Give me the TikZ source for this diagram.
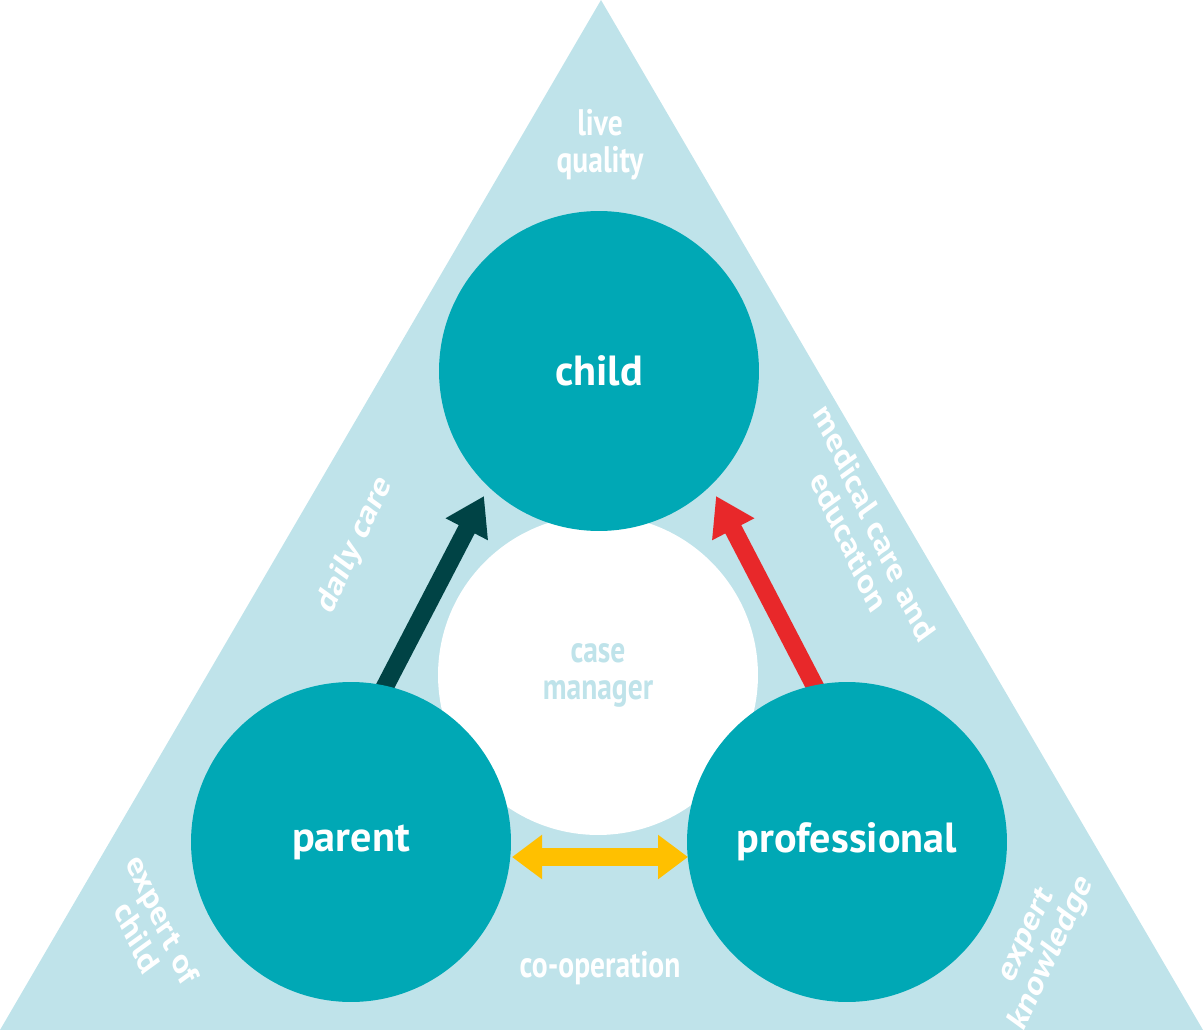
\documentclass[tikz,border=0pt]{standalone}
\usepackage{fontspec}
\setmainfont{PT Sans}
\usetikzlibrary{arrows.meta}
\definecolor{tribg}{HTML}{BFE3EA}
\definecolor{teal}{HTML}{00A8B5}
\definecolor{darkarr}{HTML}{004345}
\definecolor{redarr}{HTML}{E8282A}
\definecolor{yelarr}{HTML}{FFC000}
\begin{document}
\begin{tikzpicture}[x=0.02cm, y=-0.02cm,
        role/.style={circle, fill=teal, minimum size=6.4cm, text=white, font=\fontsize{24}{26}\selectfont\bfseries, inner sep=0pt},
        lbl/.style={text=white, align=center, font=\fontsize{21}{21}\selectfont\bfseries, xscale=0.8},
        fat/.style={line width=0.36cm, -{Triangle[width=0.9cm,length=0.75cm]}},
      ]
      \useasboundingbox (0,0) rectangle (1203,1030);
      % background triangle and case manager
      \fill[tribg] (601,0) -- (1203,1030) -- (0,1030) -- cycle;
      \node[circle, fill=white, minimum size=6.4cm] (manager) at (598,675) {};
      \node[text=tribg, align=center, font=\fontsize{21}{21}\selectfont\bfseries, xscale=0.8] (managertext) at (598,675) {case\\manager};
      % end points of the arrows
      \coordinate (dailyfrom) at (378,700);
      \coordinate (dailyto) at (484,496);
      \coordinate (medfrom) at (822,700);
      \coordinate (medto) at (716,496);
      \coordinate (coopleft) at (512,857);
      \coordinate (coopright) at (688,857);
      \draw[fat, darkarr] (dailyfrom) -- (dailyto);
      \draw[fat, redarr] (medfrom) -- (medto);
      \draw[line width=0.36cm, yelarr, {Triangle[width=0.85cm,length=0.6cm]}-{Triangle[width=0.85cm,length=0.6cm]}] (coopleft) -- (coopright);
      % the three roles
      \node[role] (child) at (599,371) {child};
      \node[role] (parent) at (351,842) {parent};
      \node[role] (professional) at (847,842) {professional};
      % labels
      \node[lbl] (live) at (600,145) {live\\quality};
      \node[lbl] (coop) at (600,968) {co-operation};
      \node[lbl, rotate=60] (daily) at (355,545) {daily care};
      \node[lbl, rotate=-60] (medical) at (862,532) {medical care and\\education};
      \node[lbl, rotate=-60] (expchild) at (150,928) {expert of\\child};
      \node[lbl, rotate=60] (expknow) at (1040,945) {expert\\knowledge};
    \end{tikzpicture}
\end{document}
